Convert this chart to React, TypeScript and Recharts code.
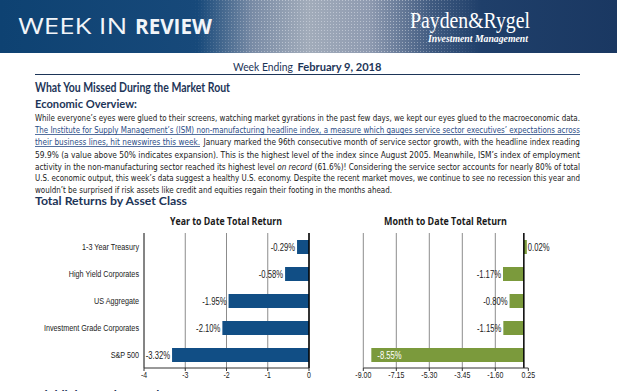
import { Bar, BarChart, CartesianGrid, LabelList, ReferenceLine, XAxis, YAxis } from 'recharts'

const ASSETS = ['1-3 Year Treasury', 'High Yield Corporates', 'US Aggregate', 'Investment Grade Corporates', 'S&P 500']
const YTD_RETURN = [-0.29, -0.58, -1.95, -2.1, -3.32]
const MTD_RETURN = [0.02, -1.17, -0.8, -1.15, -8.55]
const YTD_TICKS = [-4, -3, -2, -1, 0]
const MTD_TICKS = [-9, -7.15, -5.3, -3.45, -1.6, 0.25]

const NAVY_BAR = '#114e85'
const OLIVE_BAR = '#7b9a3c'
const HEAD = '#1d3558'
const LINK = '#2b4c86'
const NARROW = "'Liberation Sans Narrow', 'DejaVu Sans Condensed', 'Liberation Sans', sans-serif"
const SANS = "'Liberation Sans', Arial, sans-serif"
const SQUEEZE = 0.73
const HEADING = "Lato, 'Open Sans', sans-serif"

const ytdRows = ASSETS.map((name, i) => ({ name, value: YTD_RETURN[i] }))
const mtdRows = ASSETS.map((name, i) => ({ name, value: MTD_RETURN[i] }))

// text squeezed to the measured width, like the scanned page
function Fit(props: any) {
  const { x, y, w, size, weight = 400, fill = '#1a1a1a', family = NARROW, italic, children } = props
  return (
    <text
      x={x}
      y={y}
      textLength={w}
      lengthAdjust="spacingAndGlyphs"
      fontSize={size}
      fontWeight={weight}
      fontStyle={italic ? 'italic' : 'normal'}
      fill={fill}
      fontFamily={family}
    >
      {children}
    </text>
  )
}

// arial squeezed horizontally, stands in for the narrow face of the original
function Narrow({ x, y, anchor, dy, size, fill = '#222', children }: any) {
  return (
    <text
      transform={`translate(${x},${y}) scale(${SQUEEZE},1)`}
      x={0}
      y={0}
      dy={dy}
      textAnchor={anchor}
      fontSize={size}
      fill={fill}
      fontFamily={SANS}
    >
      {children}
    </text>
  )
}

const valueLabel = (insideLimit: number) => (props: any) => {
  const v = Number(props.value)
  const x0 = Number(props.x)
  const w = Number(props.width)
  const lo = Math.min(x0, x0 + w)
  const hi = Math.max(x0, x0 + w)
  const cy = Number(props.y) + Number(props.height) / 2
  const txt = `${v.toFixed(2)}%`
  if (v >= 0) return <Narrow x={hi + 1} y={cy} dy="0.35em" anchor="start" size={10.5}>{txt}</Narrow>
  if (lo < insideLimit) return <Narrow x={lo + 6} y={cy} dy="0.35em" anchor="start" size={10.5} fill="#fff">{txt}</Narrow>
  return <Narrow x={lo - 2} y={cy} dy="0.35em" anchor="end" size={10.5}>{txt}</Narrow>
}

const xTick = (fmt: (v: number) => string) => (p: any) => (
  <Narrow x={p.x} y={p.y} dy="0.71em" anchor="middle" size={9.6}>{fmt(Number(p.payload.value))}</Narrow>
)

const yTick = (p: any) => (
  <Narrow x={p.x} y={p.y} dy="0.35em" anchor="end" size={9.9}>{p.payload.value}</Narrow>
)

function Page() {
  const body = 545
  return (
    <svg width={617} height={391} style={{ position: 'absolute', left: 0, top: 0 }}>
      <defs>
        <linearGradient id="band" x1="0" x2="1" y1="0" y2="0">
          <stop offset="0" stopColor="#0e4272" />
          <stop offset="0.32" stopColor="#17497a" />
          <stop offset="0.41" stopColor="#7a8ca6" />
          <stop offset="0.5" stopColor="#a2acba" />
          <stop offset="0.6" stopColor="#8e9ab0" />
          <stop offset="0.7" stopColor="#3f5a80" />
          <stop offset="0.78" stopColor="#1f3f6a" />
          <stop offset="1" stopColor="#1a3862" />
        </linearGradient>
        <pattern id="dots" width="3" height="3" patternUnits="userSpaceOnUse">
          <rect width="1" height="1" fill="#d5dbe4" />
        </pattern>
        <linearGradient id="fade" x1="0" x2="1" y1="0" y2="0">
          <stop offset="0" stopColor="#fff" stopOpacity="0" />
          <stop offset="0.3" stopColor="#fff" stopOpacity="0.6" />
          <stop offset="0.7" stopColor="#fff" stopOpacity="0.6" />
          <stop offset="1" stopColor="#fff" stopOpacity="0" />
        </linearGradient>
        <mask id="dotmask">
          <rect x={190} y={0} width={290} height={53} fill="url(#fade)" />
        </mask>
      </defs>
      <rect x={0} y={0} width={617} height={53} fill="url(#band)" />
      <rect x={190} y={0} width={290} height={53} fill="url(#dots)" mask="url(#dotmask)" />

      <Fit x={18.3} y={33.5} w={109} size={21} fill="#f2f5f9" family="'Open Sans', sans-serif">WEEK IN</Fit>
      <Fit x={135} y={33.5} w={77} size={21} weight={700} fill="#f2f5f9" family="'Open Sans', sans-serif">REVIEW</Fit>
      <Fit x={410} y={27.5} w={120} size={23} fill="#fff" family="'Liberation Serif', serif">{'Payden&Rygel'}</Fit>
      <Fit x={428} y={42} w={100} size={10} weight={700} italic fill="#fff" family="'Liberation Serif', serif">Investment Management</Fit>

      <Fit x={233} y={70.5} w={60} size={12} fill={HEAD} family={HEADING}>Week Ending</Fit>
      <Fit x={297.5} y={70.5} w={84} size={12} weight={700} fill={HEAD} family={HEADING}>February 9, 2018</Fit>
      <line x1={35} x2={580} y1={74.5} y2={74.5} stroke={HEAD} strokeWidth={1} />

      <Fit x={35} y={91.5} w={195} size={14} weight={700} fill={HEAD} family={HEADING}>What You Missed During the Market Rout</Fit>
      <Fit x={35} y={108.3} w={102} size={11.5} weight={700} fill={HEAD} family={HEADING}>Economic Overview:</Fit>

      <Fit x={35} y={121} w={body} size={9.5}>While everyone’s eyes were glued to their screens, watching market gyrations in the past few days, we kept our eyes glued to the macroeconomic data.</Fit>
      <Fit x={35} y={133} w={body} size={9.5} fill={LINK}>The Institute for Supply Management’s (ISM) non-manufacturing headline index, a measure which gauges service sector executives’ expectations across</Fit>
      <line x1={35} x2={580} y1={134.5} y2={134.5} stroke={LINK} strokeWidth={0.8} />
      <Fit x={35} y={145} w={165} size={9.5} fill={LINK}>their business lines, hit newswires this week.</Fit>
      <line x1={35} x2={200} y1={146.5} y2={146.5} stroke={LINK} strokeWidth={0.8} />
      <Fit x={203.5} y={145} w={376.5} size={9.5}>January marked the 96th consecutive month of service sector growth, with the headline index reading</Fit>
      <Fit x={35} y={157.5} w={body} size={9.5}>59.9% (a value above 50% indicates expansion). This is the highest level of the index since August 2005. Meanwhile, ISM’s index of employment</Fit>
      <text x={35} y={169.5} textLength={body} lengthAdjust="spacingAndGlyphs" fontSize={9.5} fill="#1a1a1a" fontFamily={NARROW}>
        activity in the non-manufacturing sector reached its highest level <tspan fontStyle="italic">on record</tspan> (61.6%)! Considering the service sector accounts for nearly 80% of total
      </text>
      <Fit x={35} y={181.2} w={body} size={9.5}>U.S. economic output, this week’s data suggest a healthy U.S. economy. Despite the recent market moves, we continue to see no recession this year and</Fit>
      <Fit x={35} y={192.8} w={357} size={9.5}>wouldn’t be surprised if risk assets like credit and equities regain their footing in the months ahead.</Fit>

      <Fit x={35} y={204.5} w={152} size={12} weight={700} fill={HEAD} family={HEADING}>Total Returns by Asset Class</Fit>
      <Fit x={170} y={225} w={112} size={11} weight={700} fill="#1a1a1a" family="'Open Sans', sans-serif">Year to Date Total Return</Fit>
      <Fit x={384} y={225} w={123} size={11} weight={700} fill="#1a1a1a" family="'Open Sans', sans-serif">Month to Date Total Return</Fit>

      <Fit x={35} y={399} w={128} size={12} weight={700} fill={HEAD} family={HEADING}>Highlights of the Week</Fit>
    </svg>
  )
}

export default function App() {
  return (
    <div style={{ position: 'absolute', left: 0, top: 0, width: 617, height: 391, overflow: 'hidden', background: '#fff' }}>
      <Page />
      <div style={{ position: 'absolute', left: 0, top: 210 }}>
        <BarChart width={320} height={180} layout="vertical" data={ytdRows} margin={{ top: 23, right: 11, bottom: 4, left: 0 }} barSize={14}>
          <CartesianGrid horizontal={false} stroke="#8c8c8c" />
          <XAxis type="number" domain={[-4, 0]} ticks={YTD_TICKS} interval={0} height={18} tickSize={3} tickMargin={0} stroke="#333" tick={xTick((v) => String(v))} />
          <YAxis type="category" dataKey="name" width={144} tickLine={false} tickSize={3} tickMargin={2} stroke="#444" tick={yTick} />
          <ReferenceLine x={0} stroke="#000" strokeWidth={1.5} />
          <Bar dataKey="value" fill={NAVY_BAR} isAnimationActive={false}>
            <LabelList dataKey="value" content={valueLabel(160)} />
          </Bar>
        </BarChart>
      </div>
      <div style={{ position: 'absolute', left: 320, top: 210 }}>
        <BarChart width={297} height={180} layout="vertical" data={mtdRows} margin={{ top: 23, right: 88.7, bottom: 4, left: 43.3 }} barSize={14}>
          <CartesianGrid horizontal={false} verticalValues={MTD_TICKS.slice(0, -1)} stroke="#8c8c8c" />
          <XAxis type="number" domain={[-9, 0.25]} ticks={MTD_TICKS} interval={0} height={18} tickSize={3} tickMargin={0} stroke="#333" tick={xTick((v) => v.toFixed(2))} />
          <YAxis type="category" dataKey="name" hide />
          <ReferenceLine x={0} stroke="#000" strokeWidth={1.5} />
          <Bar dataKey="value" fill={OLIVE_BAR} minPointSize={3} isAnimationActive={false}>
            <LabelList dataKey="value" content={valueLabel(73)} />
          </Bar>
        </BarChart>
      </div>
    </div>
  )
}
